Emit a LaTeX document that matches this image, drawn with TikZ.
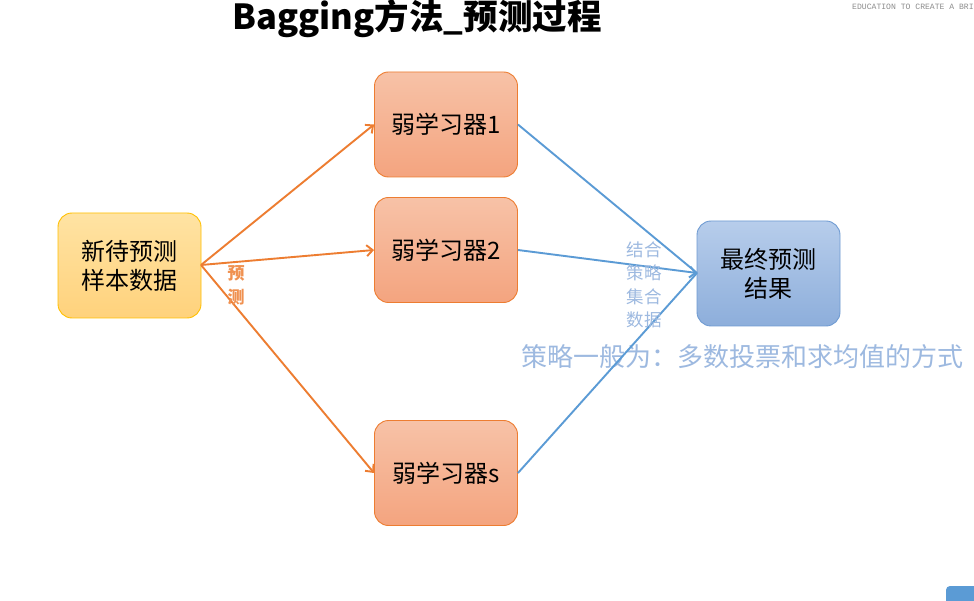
\documentclass[tikz,border=0pt]{standalone}
\usepackage{fontspec}
\setmainfont{Noto Sans CJK SC}
\newfontfamily\cjk{Noto Sans CJK SC}
\newfontfamily\monof{Liberation Mono}
\usetikzlibrary{arrows.meta}
\definecolor{orangeline}{HTML}{ED7D31}
\definecolor{blueline}{HTML}{5B9BD5}
\definecolor{lblue}{HTML}{9DB9E0}
\definecolor{wktop}{HTML}{F7C2A7}
\definecolor{wkbot}{HTML}{F4A47F}
\definecolor{intop}{HTML}{FFE3A3}
\definecolor{inbot}{HTML}{FFD27C}
\definecolor{inborder}{HTML}{FFC000}
\definecolor{fintop}{HTML}{B7CDEB}
\definecolor{finbot}{HTML}{8DAEDB}
\definecolor{finborder}{HTML}{6F9BD2}
\tikzset{
  box/.style={rounded corners=14pt, minimum width=143pt, minimum height=105pt, align=center, font=\cjk\fontsize{24}{29}\selectfont, text=black, inner sep=0pt},
  wkbox/.style={box, draw=orangeline, line width=0.9pt, top color=wktop, bottom color=wkbot},
  inbox/.style={box, draw=inborder, line width=0.9pt, top color=intop, bottom color=inbot},
  finbox/.style={box, draw=finborder, line width=0.9pt, top color=fintop, bottom color=finbot},
  oarrow/.style={draw=orangeline, line width=1.9pt, -{Straight Barb[length=6pt,width=11pt,line width=1.9pt]}},
  barrow/.style={draw=blueline, line width=1.9pt, -{Straight Barb[length=6pt,width=11pt,line width=1.9pt]}},
  bline/.style={draw=blueline, line width=1.9pt},
}
\begin{document}
\begin{tikzpicture}[x=1pt,y=-1pt]
\clip (0,0) rectangle (974,601);
\fill[white] (0,0) rectangle (974,601);
% title
\node[font=\cjk\bfseries\fontsize{34.5}{38}\selectfont, anchor=center] (title) at (417,18.5) {Bagging方法\_预测过程};
\node[font=\monof\fontsize{8.1}{9}\selectfont, text=gray!90, anchor=west, inner sep=0pt] (edu) at (852,7) {EDUCATION TO CREATE A BRI};
% note text (under the lines)
\node[font=\cjk\fontsize{26}{30}\selectfont, text=lblue, anchor=west, inner sep=0pt] (note) at (521,357) {策略一般为：多数投票和求均值的方式};
% nodes
\node[inbox] (in) at (129.5,265.5) {新待预测\\样本数据};
\node[wkbox] (w1) at (446,124.5) {弱学习器1};
\node[wkbox] (w2) at (446,250) {弱学习器2};
\node[wkbox] (ws) at (446,473) {弱学习器s};
\node[finbox] (fin) at (768.5,273.5) {最终预测\\结果};
\coordinate (src) at (201,265);
\coordinate (dst) at (697,273);
% connectors
\draw[oarrow] (src) -- (w1.west);
\draw[oarrow] (src) -- (w2.west);
\draw[oarrow] (src) -- (ws.west);
\draw[bline] (w1.east) -- (dst);
\draw[bline] (ws.east) -- (dst);
\draw[barrow] (w2.east) -- (dst);
% labels
\node[font=\cjk\bfseries\fontsize{17}{24}\selectfont, text=orangeline!85, align=center] (pl) at (236,285) {预\\测};
\node[font=\cjk\fontsize{17.5}{23.5}\selectfont, text=lblue, align=center] (cl) at (644,285) {结合\\策略\\集合\\数据};
% corner piece
\fill[blueline, rounded corners=4pt] (946,586) rectangle (990,620);
\end{tikzpicture}
\end{document}
